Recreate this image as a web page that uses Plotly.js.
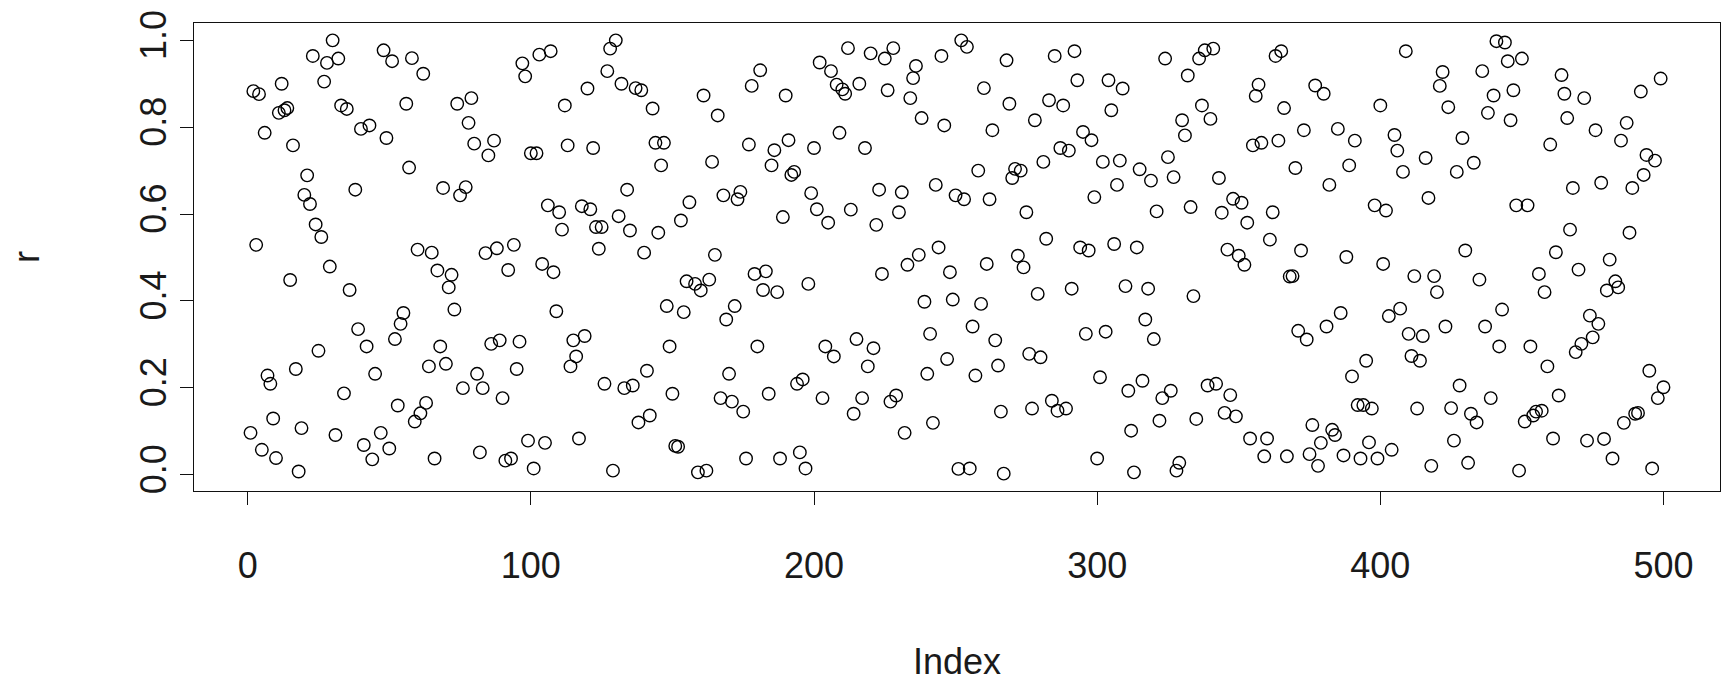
<!DOCTYPE html>
<html>
<head>
<meta charset="utf-8">
<script src="https://cdn.plot.ly/plotly-3.0.1.min.js"></script>
<style>
  html, body { margin: 0; padding: 0; background: #ffffff; }
  #chart { width: 1736px; height: 691px; }
</style>
</head>
<body>
<div id="chart"></div>
<script>
// Values of r, in index order (null = point not readable)
const r_001_100 = [
  .096,.883,.529,.876,.057,.787,.228,.209,.129,.038,
  .833,.900,.839,.844,.448,.758,.243,.007,.107,.644,
  .689,.623,.964,.576,.285,.547,.905,.948,.479,1.000,
  .091,.958,.850,.187,.842,.425,null,.656,.335,.796,
  .068,.295,.804,.035,.232,null,.096,.977,.775,.060,
  .952,.312,.159,.347,.372,.854,.707,.959,.122,.518,
  .141,.923,.165,.249,.511,.037,.470,.295,.660,.255,
  .431,.460,.380,.854,.643,.199,.662,.810,.867,.762,
  .232,.051,.199,.510,.735,.301,.769,.521,.309,.176,
  .032,.471,.037,.529,.243,.306,.947,.917,.078,.740
];
const r_101_200 = [
  .014,.740,.967,.485,.073,.620,.975,.466,.376,.604,
  .564,.850,.758,.249,.309,.272,.083,.618,.319,.889,
  .611,.752,.570,.520,.570,.209,.929,.981,.009,1.000,
  .595,.900,.199,.656,.562,.205,.890,.120,.885,.511,
  .239,.136,.843,.764,.557,.712,.764,.388,.295,.186,
  .066,.064,.585,.374,.445,.627,null,.439,.005,.424,
  .873,.009,.449,.720,.506,.827,.176,.643,.357,.232,
  .168,.388,.634,.651,.145,.037,.760,.895,.462,.295,
  .931,.425,.468,.186,.712,.747,.420,.037,.593,.873,
  .770,.690,.697,.209,.051,.219,.014,.439,.648,.752
];
const r_201_300 = [
  .611,.949,.176,.295,.580,.929,.272,.898,.787,.887,
  .877,.982,.610,.140,.312,.900,.176,.752,.249,.970,
  .291,.575,.656,.462,.958,.885,.168,.982,.182,.604,
  .650,.096,.483,.867,.913,.941,.506,.821,.398,.232,
  .324,.119,.667,.523,.964,.804,.266,.466,.403,.643,
  .013,1.000,.634,.985,.014,.341,.228,.700,.393,.890,
  .485,.634,.793,.309,.251,.145,.002,.954,.854,.683,
  .704,.504,.700,.477,.604,.278,.152,.816,.416,.270,
  .720,.543,.862,.170,.964,.147,.752,.850,.152,.746,
  .428,.975,.908,.523,.789,.324,.516,.770,.639,.037
];
const r_301_400 = [
  .224,.720,.329,.908,.839,.531,.667,.723,.889,.434,
  .193,.101,.005,.523,.703,.216,.357,.428,.677,.312,
  .606,.124,.176,.958,.731,.193,.685,.009,.027,.816,
  .781,.919,.616,.411,.128,.958,.850,.977,.205,.819,
  .981,.209,.683,.603,.142,.518,.183,.635,.134,.504,
  .626,.483,.580,.083,.758,.872,.898,.764,.042,.083,
  .541,.604,.964,.769,.975,.844,.042,.456,.457,.706,
  .331,.516,.793,.311,.047,.114,.896,.020,.073,.877,
  .341,.667,.103,.091,.796,.372,.044,.501,.712,.226,
  .769,.160,.037,.160,.262,.074,.152,.620,.037,.850
];
const r_401_500 = [
  .485,.608,.365,.057,.782,.746,.382,.697,.975,.324,
  .273,.457,.152,.262,.319,.729,.637,.020,.457,.420,
  .895,.927,.341,.846,.153,.078,.697,.205,.775,.516,
  .027,.140,.718,.120,.449,.929,.341,.833,.176,.873,
  .998,.295,.380,.995,.952,.816,.885,.620,.009,.958,
  .122,.620,.295,.136,.145,.462,.147,.420,.249,.760,
  .083,.512,.182,.920,.877,.821,.564,.660,.282,.472,
  .301,.867,.078,.366,.316,.793,.347,.672,.082,.424,
  .495,.037,.445,.431,.769,.119,.810,.557,.660,.140,
  .142,.882,.690,.736,.239,.014,.723,.176,.912,.201
];

const xTickVals = [0, 100, 200, 300, 400, 500];
const yTickVals = [0, 0.2, 0.4, 0.6, 0.8, 1.0];
const yTickText = ['0.0', '0.2', '0.4', '0.6', '0.8', '1.0'];
const xLabel = 'Index';
const yLabel = 'r';

const r = [].concat(r_001_100, r_101_200, r_201_300, r_301_400, r_401_500);
const index = r.map((_, i) => i + 1);   // R's default "Index" axis

// R-style ranges: data range extended by 4% on each side
const nums = r.filter(v => v !== null);
const ymin = Math.min(...nums), ymax = Math.max(...nums);
const xmin = 1, xmax = r.length;
const xr = [xmin - 0.04 * (xmax - xmin), xmax + 0.04 * (xmax - xmin)];
const yr = [ymin - 0.04 * (ymax - ymin), ymax + 0.04 * (ymax - ymin)];

const FONT = { family: '"Liberation Sans", Arial, sans-serif', size: 36, color: '#1a1a1a' };

const trace = {
  type: 'scatter',
  mode: 'markers',
  x: index,
  y: r,
  marker: { symbol: 'circle-open', size: 12.5, color: '#000000', line: { width: 1.4 } },
  hoverinfo: 'x+y'
};

const axisCommon = {
  showgrid: false, zeroline: false,
  showline: true, mirror: true, linecolor: '#111111', linewidth: 1,
  ticks: 'outside', ticklen: 13, tickwidth: 1, tickcolor: '#111111',
  tickfont: FONT
};

const layout = {
  width: 1736, height: 691,
  paper_bgcolor: '#ffffff', plot_bgcolor: '#ffffff',
  margin: { l: 194, r: 16, t: 23, b: 200, pad: 0 },
  showlegend: false,
  font: FONT,
  xaxis: Object.assign({}, axisCommon, {
    range: xr, tickmode: 'array', tickvals: xTickVals,
    ticklabelstandoff: 30,
    title: { text: xLabel, font: FONT, standoff: 63 }
  }),
  yaxis: Object.assign({}, axisCommon, {
    range: yr, tickmode: 'array', tickvals: yTickVals, ticktext: yTickText,
    tickangle: -90, ticklabelstandoff: 0,
    title: { text: yLabel, font: FONT, standoff: 81 }
  })
};

Plotly.newPlot('chart', [trace], layout, { displayModeBar: false, staticPlot: true });
</script>
</body>
</html>
